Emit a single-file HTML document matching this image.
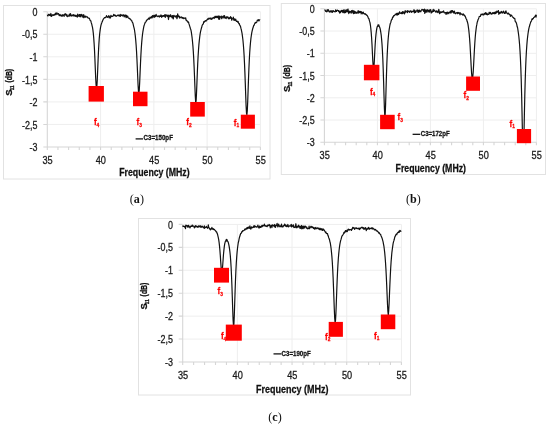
<!DOCTYPE html>
<html><head><meta charset="utf-8"><style>
html,body{margin:0;padding:0;background:#fff;}
svg{display:block;}
</style></head><body>
<svg width="550" height="427" viewBox="0 0 550 427" font-family="'Liberation Sans', Arial, sans-serif">
<rect width="550" height="427" fill="#fff"/>
<rect x="3.5" y="5.5" width="266.5" height="173.5" fill="#fff" stroke="#e2e2e2" stroke-width="1"/>
<path d="M47.3 11.7H260.4 M47.3 34.25H260.4 M47.3 56.8H260.4 M47.3 79.35H260.4 M47.3 101.9H260.4 M47.3 124.45H260.4 M100.57 11.7V147 M153.85 11.7V147 M207.12 11.7V147 M260.4 11.7V147" stroke="#eeeeee" stroke-width="1" fill="none"/>
<path d="M47.3 11.7V150 M43.3 147H260.4 M43.3 11.7H47.3 M43.3 34.25H47.3 M43.3 56.8H47.3 M43.3 79.35H47.3 M43.3 101.9H47.3 M43.3 124.45H47.3 M57.95 147v3 M68.61 147v3 M79.26 147v3 M89.92 147v3 M100.57 147v3 M111.23 147v3 M121.88 147v3 M132.54 147v3 M143.19 147v3 M153.85 147v3 M164.5 147v3 M175.16 147v3 M185.81 147v3 M196.47 147v3 M207.12 147v3 M217.78 147v3 M228.43 147v3 M239.09 147v3 M249.74 147v3 M260.4 147v3" stroke="#d6d6d6" stroke-width="1.1" fill="none"/>
<text transform="translate(37.5,15.85) scale(0.875,1)" font-size="10.2" text-anchor="end" fill="#1a1a1a" stroke="#1a1a1a" stroke-width="0.28">0</text>
<text transform="translate(37.5,38.4) scale(0.875,1)" font-size="10.2" text-anchor="end" fill="#1a1a1a" stroke="#1a1a1a" stroke-width="0.28">-0,5</text>
<text transform="translate(37.5,60.95) scale(0.875,1)" font-size="10.2" text-anchor="end" fill="#1a1a1a" stroke="#1a1a1a" stroke-width="0.28">-1</text>
<text transform="translate(37.5,83.5) scale(0.875,1)" font-size="10.2" text-anchor="end" fill="#1a1a1a" stroke="#1a1a1a" stroke-width="0.28">-1,5</text>
<text transform="translate(37.5,106.05) scale(0.875,1)" font-size="10.2" text-anchor="end" fill="#1a1a1a" stroke="#1a1a1a" stroke-width="0.28">-2</text>
<text transform="translate(37.5,128.6) scale(0.875,1)" font-size="10.2" text-anchor="end" fill="#1a1a1a" stroke="#1a1a1a" stroke-width="0.28">-2,5</text>
<text transform="translate(37.5,151.15) scale(0.875,1)" font-size="10.2" text-anchor="end" fill="#1a1a1a" stroke="#1a1a1a" stroke-width="0.28">-3</text>
<text transform="translate(47.6,163.9) scale(0.900,1)" font-size="10.2" text-anchor="middle" fill="#1a1a1a" stroke="#1a1a1a" stroke-width="0.28">35</text>
<text transform="translate(100.87,163.9) scale(0.900,1)" font-size="10.2" text-anchor="middle" fill="#1a1a1a" stroke="#1a1a1a" stroke-width="0.28">40</text>
<text transform="translate(154.15,163.9) scale(0.900,1)" font-size="10.2" text-anchor="middle" fill="#1a1a1a" stroke="#1a1a1a" stroke-width="0.28">45</text>
<text transform="translate(207.42,163.9) scale(0.900,1)" font-size="10.2" text-anchor="middle" fill="#1a1a1a" stroke="#1a1a1a" stroke-width="0.28">50</text>
<text transform="translate(260.7,163.9) scale(0.900,1)" font-size="10.2" text-anchor="middle" fill="#1a1a1a" stroke="#1a1a1a" stroke-width="0.28">55</text>
<text transform="translate(154.45,176.3) scale(0.810,1)" font-size="10.8" font-weight="bold" text-anchor="middle" fill="#111" stroke="#111" stroke-width="0.28">Frequency (MHz)</text>
<g transform="translate(12.35,95.75) rotate(-90)" fill="#111" stroke="#111" stroke-width="0.3" font-weight="bold"><text x="0" y="0" font-size="9.4">S</text><text transform="translate(5.4,2.0) scale(0.9,1)" font-size="5.2">11</text><text transform="translate(13.2,0) scale(0.779,1)" font-size="8.8">(dB)</text></g>
<clipPath id="cpa"><rect x="46.3" y="5.7" width="215.1" height="141.3"/></clipPath>
<polyline clip-path="url(#cpa)" points="47.3,14.67 47.7,15.86 48.1,15.79 48.5,14.34 48.9,14.57 49.3,14.42 49.7,15.42 50.1,14.92 50.5,15.67 50.9,13.47 51.3,16.47 51.7,15.08 52.1,15.77 52.5,14.97 52.9,14.67 53.3,15.24 53.7,15.43 54.1,14.51 54.5,14.45 54.9,15.02 55.3,13.69 55.7,13.03 56.1,14.58 56.5,13.77 56.9,12.84 57.3,13.83 57.7,14.19 58.1,13.7 58.5,13.54 58.9,14.87 59.3,15.65 59.7,14.82 60.1,14.5 60.5,15.5 60.9,15.89 61.3,15.02 61.7,15.82 62.1,16.29 62.5,15.11 62.9,14.53 63.3,15.64 63.7,15.54 64.1,16.35 64.5,14.1 64.9,14.69 65.3,14.52 65.7,13.68 66.1,15.44 66.5,15.82 66.9,14.63 67.3,16.64 67.7,16.11 68.1,15.93 68.5,15.72 68.9,16.25 69.3,14.1 69.7,15.94 70.1,15.93 70.5,13.71 70.9,15.7 71.3,15.15 71.7,16.13 72.1,14.99 72.5,15.38 72.9,15.73 73.3,14.58 73.7,15.97 74.1,15.31 74.5,15.88 74.9,14.93 75.3,16.44 75.7,16 76.1,15.28 76.5,16.04 76.9,16.63 77.3,17.13 77.7,14.03 78.1,16.31 78.5,15.95 78.9,15.45 79.3,14.64 79.7,16.72 80.1,14.48 80.5,16.15 80.9,16.83 81.3,14.33 81.7,15.51 82.1,14.7 82.5,16.09 82.9,17.22 83.3,17.69 83.7,14.62 84.1,15.7 84.5,16.82 84.9,17.59 85.3,16.79 85.7,16.03 86.1,16.95 86.5,16.88 86.9,16.93 87.3,16.79 87.7,17.75 88.1,17.96 88.5,18.03 88.9,18.32 89.3,18.22 89.7,19.13 90.1,20.44 90.5,20.57 90.9,21.01 91.3,22.9 91.7,23.93 92.1,25.82 92.5,27.41 92.9,29.89 93.3,33.08 93.7,37.62 94.1,43.2 94.5,50.03 94.9,58.72 95.3,68.65 95.7,78.2 96.1,85.21 96.5,87.42 96.9,85.72 97.3,79.18 97.7,69.64 98.1,59.76 98.5,50.86 98.9,43.69 99.3,37.83 99.7,33.48 100.1,30.38 100.5,27.55 100.9,25.72 101.3,24.11 101.7,23.05 102.1,21.89 102.5,21.13 102.9,20 103.3,19.14 103.7,18.6 104.1,18.28 104.5,17.53 104.9,17.54 105.3,17.54 105.7,17.54 106.1,16.94 106.5,15.62 106.9,16.79 107.3,16.87 107.7,17.42 108.1,16.94 108.5,15.86 108.9,15.71 109.3,17.9 109.7,16.8 110.1,17.67 110.5,17.89 110.9,15.29 111.3,16.3 111.7,16.33 112.1,16.38 112.5,16.31 112.9,15.97 113.3,15.91 113.7,14.39 114.1,15.54 114.5,14.98 114.9,15.74 115.3,15.18 115.7,16.14 116.1,16.31 116.5,15.83 116.9,15.82 117.3,15.6 117.7,15.09 118.1,15.35 118.5,15.03 118.9,15.87 119.3,15.52 119.7,16.05 120.1,14.28 120.5,16.35 120.9,14.85 121.3,14.9 121.7,15.41 122.1,15.12 122.5,15.91 122.9,15.19 123.3,14.81 123.7,15.06 124.1,16.95 124.5,15.94 124.9,15.04 125.3,16.09 125.7,15.04 126.1,17.67 126.5,15.39 126.9,16.99 127.3,17.21 127.7,16.06 128.1,17.44 128.5,18.12 128.9,18.04 129.3,18.21 129.7,18.92 130.1,18.86 130.5,19.37 130.9,19.63 131.3,20.52 131.7,20.52 132.1,21.93 132.5,22.35 132.9,23.23 133.3,24.86 133.7,26.59 134.1,28.15 134.5,29.99 134.9,32.78 135.3,35.83 135.7,39.85 136.1,44.81 136.5,50.77 136.9,58.39 137.3,67.06 137.7,76.59 138.1,85.51 138.5,91.77 138.9,93.22 139.3,89.65 139.7,81.87 140.1,72.37 140.5,63.17 140.9,54.93 141.3,47.99 141.7,42.59 142.1,38.16 142.5,34.47 142.9,31.68 143.3,29.38 143.7,27.18 144.1,25.41 144.5,24.39 144.9,23.28 145.3,22.29 145.7,21.99 146.1,21.65 146.5,20.16 146.9,20.18 147.3,19.88 147.7,19.4 148.1,19.27 148.5,18.13 148.9,18.56 149.3,19.18 149.7,18.19 150.1,17.02 150.5,17.72 150.9,18.06 151.3,17.27 151.7,16.44 152.1,17.96 152.5,15.66 152.9,16.97 153.3,16.47 153.7,15.41 154.1,17.36 154.5,16.57 154.9,15.21 155.3,16.7 155.7,15.75 156.1,14.4 156.5,15.45 156.9,16.29 157.3,16.61 157.7,16.16 158.1,16.04 158.5,16.42 158.9,15.78 159.3,17.07 159.7,16.1 160.1,16.24 160.5,16.47 160.9,14.96 161.3,15.3 161.7,17.41 162.1,16.29 162.5,15.72 162.9,16.31 163.3,15.56 163.7,16.28 164.1,15.42 164.5,16.3 164.9,14.62 165.3,17.3 165.7,15.64 166.1,14.69 166.5,15.95 166.9,15.84 167.3,16.34 167.7,15.19 168.1,16.61 168.5,19.53 168.9,15.17 169.3,16.64 169.7,16.09 170.1,16.58 170.5,14.72 170.9,15.3 171.3,16.76 171.7,16.29 172.1,17.83 172.5,15.64 172.9,16.45 173.3,19.01 173.7,15.56 174.1,15.42 174.5,16.24 174.9,16.23 175.3,17.07 175.7,16.41 176.1,15.59 176.5,16.5 176.9,18.74 177.3,17.5 177.7,13.86 178.1,16.27 178.5,15.65 178.9,17.01 179.3,16.36 179.7,18.2 180.1,17.37 180.5,17.43 180.9,17.01 181.3,16.97 181.7,17.39 182.1,18.23 182.5,17.84 182.9,17.39 183.3,18.69 183.7,18.16 184.1,18.21 184.5,18 184.9,18.42 185.3,18.68 185.7,17.8 186.1,20.29 186.5,20.42 186.9,20.46 187.3,21.54 187.7,21.8 188.1,22.38 188.5,22 188.9,23.66 189.3,24.83 189.7,26.19 190.1,27.45 190.5,28.76 190.9,29.93 191.3,31.84 191.7,34.78 192.1,37.7 192.5,41.45 192.9,45.84 193.3,51.4 193.7,58.1 194.1,66.43 194.5,75.99 194.9,86.44 195.3,96.16 195.7,102.34 196.1,101.12 196.5,93.49 196.9,83.41 197.3,73.16 197.7,63.93 198.1,56.17 198.5,49.98 198.9,44.67 199.3,40.6 199.7,37.13 200.1,34.2 200.5,31.85 200.9,30.1 201.3,28.53 201.7,27.28 202.1,25.58 202.5,24.77 202.9,24.09 203.3,24.03 203.7,21.73 204.1,22.39 204.5,21.42 204.9,21.48 205.3,20.6 205.7,20.73 206.1,21.15 206.5,20.16 206.9,19.97 207.3,19.72 207.7,18.75 208.1,19.47 208.5,18.77 208.9,18.17 209.3,18.61 209.7,18.34 210.1,19 210.5,18.27 210.9,17.78 211.3,19.32 211.7,18.87 212.1,19.04 212.5,18.42 212.9,17.76 213.3,17.43 213.7,17.5 214.1,18.52 214.5,17.75 214.9,16.3 215.3,17.54 215.7,16.27 216.1,17.66 216.5,16.4 216.9,16.31 217.3,17.56 217.7,17.36 218.1,15.88 218.5,18.1 218.9,19.42 219.3,16 219.7,19.1 220.1,16.73 220.5,16.91 220.9,17.21 221.3,16.03 221.7,18.62 222.1,17.86 222.5,16.69 222.9,17.11 223.3,15.94 223.7,17.02 224.1,18.21 224.5,15.71 224.9,16.91 225.3,17.47 225.7,18.32 226.1,18.6 226.5,16.92 226.9,16.67 227.3,17.78 227.7,17.06 228.1,17.16 228.5,18.38 228.9,18.95 229.3,17.91 229.7,17.65 230.1,18.35 230.5,16.56 230.9,18.12 231.3,17.46 231.7,20.19 232.1,19.08 232.5,18.75 232.9,18.63 233.3,17.06 233.7,19.58 234.1,20.38 234.5,18.91 234.9,20.06 235.3,20.29 235.7,19.09 236.1,20.9 236.5,21.42 236.9,21.09 237.3,21.29 237.7,22.14 238.1,21.48 238.5,22.79 238.9,23.79 239.3,23.59 239.7,25.21 240.1,25.67 240.5,26.32 240.9,28.17 241.3,29.53 241.7,31.64 242.1,33.62 242.5,36.66 242.9,39.76 243.3,43.98 243.7,49.01 244.1,55.36 244.5,63.26 244.9,72.64 245.3,83.53 245.7,95.12 246.1,105.89 246.5,113.15 246.9,114.77 247.3,110.8 247.7,101.84 248.1,90.55 248.5,79.09 248.9,68.79 249.3,60.03 249.7,52.79 250.1,47.12 250.5,42.48 250.9,38.67 251.3,35.76 251.7,33.08 252.1,31.07 252.5,29.51 252.9,27.98 253.3,27.03 253.7,25.37 254.1,25.44 254.5,23.87 254.9,23.47 255.3,22.34 255.7,22.79 256.1,22.74 256.5,22.29 256.9,21.85 257.3,20.12 257.7,20.31 258.1,20.26 258.5,19.72 258.9,20.95 259.3,20.12 259.7,19.82 260.1,20.06" fill="none" stroke="#111" stroke-width="1.2" stroke-linejoin="round"/>
<path d="M135.6 138.9H143.0" stroke="#000" stroke-width="1.2"/>
<text transform="translate(143.5,140.1) scale(0.817,1)" font-size="7.6" font-weight="bold" fill="#111" stroke="#111" stroke-width="0.28">C3=150pF</text>
<text transform="translate(93.9,125.3) scale(0.86,1)" font-size="9.4" font-weight="bold" fill="#f00" stroke="#f00" stroke-width="0.25">f<tspan font-size="5.6" dy="1.2">4</tspan></text>
<text transform="translate(136.6,125.3) scale(0.86,1)" font-size="9.4" font-weight="bold" fill="#f00" stroke="#f00" stroke-width="0.25">f<tspan font-size="5.6" dy="1.2">3</tspan></text>
<text transform="translate(186.3,125.3) scale(0.86,1)" font-size="9.4" font-weight="bold" fill="#f00" stroke="#f00" stroke-width="0.25">f<tspan font-size="5.6" dy="1.2">2</tspan></text>
<text transform="translate(233.8,126.1) scale(0.86,1)" font-size="9.4" font-weight="bold" fill="#f00" stroke="#f00" stroke-width="0.25">f<tspan font-size="5.6" dy="1.2">1</tspan></text>
<rect x="88.6" y="86" width="15.3" height="15.6" fill="#f00"/>
<rect x="133" y="91.7" width="14.5" height="14.5" fill="#f00"/>
<rect x="190.2" y="102" width="14.6" height="14.6" fill="#f00"/>
<rect x="240.8" y="114.7" width="14.1" height="14" fill="#f00"/>
<text transform="translate(129.8,202.8) scale(0.93,1)" font-family="'Liberation Serif', serif" font-size="13" fill="#111">(<tspan font-weight="bold">a</tspan>)</text>
<rect x="281.3" y="3.5" width="264.2" height="171.0" fill="#fff" stroke="#e2e2e2" stroke-width="1"/>
<path d="M324.4 8.8H536.4 M324.4 31.05H536.4 M324.4 53.3H536.4 M324.4 75.55H536.4 M324.4 97.8H536.4 M324.4 120.05H536.4 M377.4 8.8V142.3 M430.4 8.8V142.3 M483.4 8.8V142.3 M536.4 8.8V142.3" stroke="#eeeeee" stroke-width="1" fill="none"/>
<path d="M324.4 8.8V145.3 M320.4 142.3H536.4 M320.4 8.8H324.4 M320.4 31.05H324.4 M320.4 53.3H324.4 M320.4 75.55H324.4 M320.4 97.8H324.4 M320.4 120.05H324.4 M335 142.3v3 M345.6 142.3v3 M356.2 142.3v3 M366.8 142.3v3 M377.4 142.3v3 M388 142.3v3 M398.6 142.3v3 M409.2 142.3v3 M419.8 142.3v3 M430.4 142.3v3 M441 142.3v3 M451.6 142.3v3 M462.2 142.3v3 M472.8 142.3v3 M483.4 142.3v3 M494 142.3v3 M504.6 142.3v3 M515.2 142.3v3 M525.8 142.3v3 M536.4 142.3v3" stroke="#d6d6d6" stroke-width="1.1" fill="none"/>
<text transform="translate(314.6,12.95) scale(0.875,1)" font-size="10.2" text-anchor="end" fill="#1a1a1a" stroke="#1a1a1a" stroke-width="0.28">0</text>
<text transform="translate(314.6,35.2) scale(0.875,1)" font-size="10.2" text-anchor="end" fill="#1a1a1a" stroke="#1a1a1a" stroke-width="0.28">-0,5</text>
<text transform="translate(314.6,57.45) scale(0.875,1)" font-size="10.2" text-anchor="end" fill="#1a1a1a" stroke="#1a1a1a" stroke-width="0.28">-1</text>
<text transform="translate(314.6,79.7) scale(0.875,1)" font-size="10.2" text-anchor="end" fill="#1a1a1a" stroke="#1a1a1a" stroke-width="0.28">-1,5</text>
<text transform="translate(314.6,101.95) scale(0.875,1)" font-size="10.2" text-anchor="end" fill="#1a1a1a" stroke="#1a1a1a" stroke-width="0.28">-2</text>
<text transform="translate(314.6,124.2) scale(0.875,1)" font-size="10.2" text-anchor="end" fill="#1a1a1a" stroke="#1a1a1a" stroke-width="0.28">-2,5</text>
<text transform="translate(314.6,146.45) scale(0.875,1)" font-size="10.2" text-anchor="end" fill="#1a1a1a" stroke="#1a1a1a" stroke-width="0.28">-3</text>
<text transform="translate(324.7,159.2) scale(0.900,1)" font-size="10.2" text-anchor="middle" fill="#1a1a1a" stroke="#1a1a1a" stroke-width="0.28">35</text>
<text transform="translate(377.7,159.2) scale(0.900,1)" font-size="10.2" text-anchor="middle" fill="#1a1a1a" stroke="#1a1a1a" stroke-width="0.28">40</text>
<text transform="translate(430.7,159.2) scale(0.900,1)" font-size="10.2" text-anchor="middle" fill="#1a1a1a" stroke="#1a1a1a" stroke-width="0.28">45</text>
<text transform="translate(483.7,159.2) scale(0.900,1)" font-size="10.2" text-anchor="middle" fill="#1a1a1a" stroke="#1a1a1a" stroke-width="0.28">50</text>
<text transform="translate(536.7,159.2) scale(0.900,1)" font-size="10.2" text-anchor="middle" fill="#1a1a1a" stroke="#1a1a1a" stroke-width="0.28">55</text>
<text transform="translate(430.8,171.8) scale(0.810,1)" font-size="10.8" font-weight="bold" text-anchor="middle" fill="#111" stroke="#111" stroke-width="0.28">Frequency (MHz)</text>
<g transform="translate(290.15,91.95) rotate(-90)" fill="#111" stroke="#111" stroke-width="0.3" font-weight="bold"><text x="0" y="0" font-size="9.4">S</text><text transform="translate(5.4,2.0) scale(0.9,1)" font-size="5.2">11</text><text transform="translate(13.2,0) scale(0.779,1)" font-size="8.8">(dB)</text></g>
<clipPath id="cpb"><rect x="323.4" y="2.8" width="214" height="139.5"/></clipPath>
<polyline clip-path="url(#cpb)" points="324.4,9.92 324.8,9.98 325.2,10.02 325.6,11.31 326,11.18 326.4,11.41 326.8,11.89 327.2,9.67 327.6,10.42 328,11.08 328.4,9.73 328.8,10.49 329.2,11.93 329.6,12.03 330,12.02 330.4,11.09 330.8,10.87 331.2,12.08 331.6,10.76 332,11.43 332.4,12.35 332.8,10.82 333.2,10.61 333.6,11.18 334,11.76 334.4,11.67 334.8,11.39 335.2,11.78 335.6,9.82 336,10.52 336.4,11.47 336.8,10.49 337.2,10.13 337.6,10.28 338,10.56 338.4,11.26 338.8,10.51 339.2,11.67 339.6,13.03 340,11.36 340.4,12.71 340.8,11.77 341.2,10.44 341.6,11.26 342,10.57 342.4,12.23 342.8,10.41 343.2,12.76 343.6,12.06 344,9.6 344.4,12.26 344.8,12.98 345.2,10.78 345.6,12.46 346,9.84 346.4,11.77 346.8,9.98 347.2,12 347.6,9.88 348,9.09 348.4,11.94 348.8,13.71 349.2,11.03 349.6,12.37 350,11.7 350.4,11.31 350.8,12.19 351.2,13.16 351.6,10.5 352,12.18 352.4,11.99 352.8,10.38 353.2,13.19 353.6,13.51 354,10.88 354.4,13.35 354.8,11.84 355.2,11.67 355.6,13.19 356,12.08 356.4,12.2 356.8,13.29 357.2,13.12 357.6,12.81 358,10.86 358.4,10.76 358.8,13.14 359.2,11.44 359.6,12.41 360,11.45 360.4,12.27 360.8,11.44 361.2,13.9 361.6,11.84 362,12.66 362.4,12.72 362.8,13.9 363.2,12.04 363.6,13.22 364,13.26 364.4,13.95 364.8,14.09 365.2,13.7 365.6,14.4 366,14.32 366.4,15.13 366.8,15.2 367.2,15.39 367.6,16.22 368,17.01 368.4,18.43 368.8,18.41 369.2,19.78 369.6,21.46 370,22.58 370.4,25.04 370.8,28.22 371.2,32.35 371.6,37.79 372,44.35 372.4,52.43 372.8,60.68 373.2,66.8 373.6,67.82 374,66.35 374.4,59.58 374.8,51.5 375.2,44.34 375.6,38.27 376,34.11 376.4,31 376.8,28.37 377.2,26.68 377.6,26.32 378,24.85 378.4,26.1 378.8,24.9 379.2,26.41 379.6,27.03 380,28.19 380.4,29.86 380.8,32.35 381.2,35.04 381.6,39.07 382,44 382.4,50.45 382.8,58.54 383.2,69.01 383.6,81.48 384,95.4 384.4,108.42 384.8,116.3 385.2,114.47 385.6,104.52 386,90.79 386.4,76.9 386.8,64.81 387.2,55.05 387.6,47.18 388,41.04 388.4,36.23 388.8,32.37 389.2,29.44 389.6,27 390,24.75 390.4,23.18 390.8,22.4 391.2,20.71 391.6,19.53 392,19.49 392.4,18.01 392.8,16.89 393.2,17.13 393.6,15.88 394,15.63 394.4,15.69 394.8,15.1 395.2,14.41 395.6,14.25 396,13.96 396.4,14.9 396.8,13.43 397.2,13.33 397.6,15.03 398,13 398.4,14.38 398.8,14.13 399.2,12.9 399.6,11.79 400,13.16 400.4,13.28 400.8,13.46 401.2,12.65 401.6,13.56 402,13.68 402.4,11.51 402.8,13.63 403.2,12.5 403.6,11.8 404,11.99 404.4,13.93 404.8,13.09 405.2,10.62 405.6,12.19 406,11.95 406.4,11.87 406.8,11.53 407.2,10.66 407.6,12.65 408,11.02 408.4,11.49 408.8,11.24 409.2,11.09 409.6,12.36 410,12.01 410.4,11.03 410.8,10.76 411.2,11.15 411.6,12.41 412,11.62 412.4,11.69 412.8,11.16 413.2,11.2 413.6,11.6 414,9.71 414.4,12.81 414.8,10.61 415.2,10.79 415.6,12.5 416,11.46 416.4,11.27 416.8,10.68 417.2,9.77 417.6,11.34 418,12.24 418.4,10.31 418.8,12.36 419.2,10.05 419.6,10.4 420,11.56 420.4,11.08 420.8,11.72 421.2,10.37 421.6,10.09 422,9.3 422.4,9.92 422.8,10.03 423.2,9.7 423.6,11.33 424,10.41 424.4,9.15 424.8,13.37 425.2,10.23 425.6,9.83 426,12.19 426.4,12.12 426.8,9.92 427.2,9.62 427.6,10.06 428,12.08 428.4,10.71 428.8,10.24 429.2,10.98 429.6,12.14 430,9.68 430.4,10.64 430.8,9.71 431.2,12.97 431.6,12.66 432,11.93 432.4,11.01 432.8,11.75 433.2,9.36 433.6,11.49 434,10.11 434.4,10.16 434.8,10.74 435.2,11.1 435.6,11.95 436,12.1 436.4,11.76 436.8,10.73 437.2,12.2 437.6,11.54 438,12.72 438.4,10.92 438.8,9.34 439.2,11.39 439.6,13.74 440,12.3 440.4,11.77 440.8,12.77 441.2,12.47 441.6,12.44 442,11.52 442.4,12.08 442.8,12.2 443.2,11.41 443.6,10.96 444,12.15 444.4,12.94 444.8,12.64 445.2,12.5 445.6,12.51 446,14.47 446.4,12.3 446.8,13.03 447.2,13.9 447.6,12.12 448,12.33 448.4,13.07 448.8,13.67 449.2,12.4 449.6,12.46 450,12.22 450.4,11.04 450.8,13.2 451.2,11.95 451.6,10.62 452,12.09 452.4,10.66 452.8,11.34 453.2,12.3 453.6,11.48 454,13.3 454.4,11.05 454.8,12.63 455.2,12.93 455.6,13.76 456,13.31 456.4,12.76 456.8,12.68 457.2,12.62 457.6,13.69 458,12.26 458.4,13.31 458.8,12.89 459.2,13.25 459.6,12.94 460,14.91 460.4,12.87 460.8,13.69 461.2,13.85 461.6,14.24 462,14.3 462.4,14.47 462.8,15.04 463.2,13.75 463.6,14.97 464,14.62 464.4,15.81 464.8,15.57 465.2,16.23 465.6,17.25 466,18.52 466.4,19.07 466.8,20.01 467.2,21.55 467.6,22.57 468,24.32 468.4,27.04 468.8,30.07 469.2,34 469.6,38.76 470,44.28 470.4,51.41 470.8,59.06 471.2,66.76 471.6,73.22 472,77.5 472.4,78.12 472.8,76.53 473.2,72.12 473.6,65.19 474,57.5 474.4,49.91 474.8,43.28 475.2,37.74 475.6,33.12 476,29.81 476.4,26.63 476.8,24.68 477.2,22.33 477.6,21.3 478,19.76 478.4,19.03 478.8,17.95 479.2,16.6 479.6,16.43 480,16.49 480.4,16.38 480.8,14.85 481.2,14.1 481.6,14.57 482,14.76 482.4,14.26 482.8,13.95 483.2,15.01 483.6,14.98 484,14.71 484.4,13.28 484.8,14 485.2,13.7 485.6,12.59 486,14.48 486.4,13.75 486.8,13.2 487.2,14.83 487.6,14.22 488,14.24 488.4,14.42 488.8,13.95 489.2,12.23 489.6,12.89 490,13.99 490.4,12.43 490.8,13.06 491.2,13.31 491.6,14.15 492,13.98 492.4,13.58 492.8,12.6 493.2,13.51 493.6,13.13 494,12.49 494.4,13.78 494.8,12.99 495.2,11.84 495.6,13.61 496,12.22 496.4,12.95 496.8,11.01 497.2,12.34 497.6,11.48 498,11.39 498.4,10.56 498.8,14.31 499.2,12.22 499.6,12.6 500,13.41 500.4,12.32 500.8,12.92 501.2,11.28 501.6,12.7 502,12.2 502.4,13.04 502.8,12.8 503.2,11.5 503.6,11.16 504,11.94 504.4,13.49 504.8,13.29 505.2,13.34 505.6,11.43 506,10.99 506.4,12.76 506.8,13.09 507.2,13.02 507.6,13.88 508,13.65 508.4,13.1 508.8,13.51 509.2,14.41 509.6,14.56 510,14.69 510.4,16.41 510.8,15.07 511.2,15.58 511.6,15.24 512,15.95 512.4,16.8 512.8,17.22 513.2,17.3 513.6,18.05 514,18.44 514.4,18.26 514.8,18.47 515.2,21.33 515.6,21.66 516,22.39 516.4,23.09 516.8,24.6 517.2,26.77 517.6,27.78 518,30.43 518.4,33.21 518.8,36.24 519.2,40.13 519.6,44.75 520,50.79 520.4,57.94 520.8,67.25 521.2,79.09 521.6,93.83 522,111.51 522.4,131.12 522.8,148.92 523.2,157.64 523.6,150.47 524,133.14 524.4,113.55 524.8,95.55 525.2,80.54 525.6,68.51 526,59.04 526.4,51.59 526.8,45.62 527.2,40.66 527.6,36.95 528,33.76 528.4,31.16 528.8,28.95 529.2,27.08 529.6,25.71 530,24.27 530.4,23.15 530.8,21.86 531.2,21.37 531.6,20.42 532,18.91 532.4,19.43 532.8,18.56 533.2,18.68 533.6,17.71 534,17.37 534.4,17.2 534.8,16.76 535.2,16.22 535.6,15.09 536,17.23 536.4,14.74" fill="none" stroke="#111" stroke-width="1.2" stroke-linejoin="round"/>
<path d="M412.6 134.3H420.3" stroke="#000" stroke-width="1.2"/>
<text transform="translate(420.8,136.4) scale(0.800,1)" font-size="7.6" font-weight="bold" fill="#111" stroke="#111" stroke-width="0.28">C3=172pF</text>
<text transform="translate(369.9,95.1) scale(0.86,1)" font-size="9.4" font-weight="bold" fill="#f00" stroke="#f00" stroke-width="0.25">f<tspan font-size="5.6" dy="1.2">4</tspan></text>
<text transform="translate(397.5,120.3) scale(0.86,1)" font-size="9.4" font-weight="bold" fill="#f00" stroke="#f00" stroke-width="0.25">f<tspan font-size="5.6" dy="1.2">3</tspan></text>
<text transform="translate(463.6,98.3) scale(0.86,1)" font-size="9.4" font-weight="bold" fill="#f00" stroke="#f00" stroke-width="0.25">f<tspan font-size="5.6" dy="1.2">2</tspan></text>
<text transform="translate(509.5,126.9) scale(0.86,1)" font-size="9.4" font-weight="bold" fill="#f00" stroke="#f00" stroke-width="0.25">f<tspan font-size="5.6" dy="1.2">1</tspan></text>
<rect x="363.9" y="64.8" width="15.5" height="15.5" fill="#f00"/>
<rect x="380.1" y="114.8" width="14.6" height="14.4" fill="#f00"/>
<rect x="466.1" y="76.5" width="13.9" height="14.3" fill="#f00"/>
<rect x="516.9" y="129" width="14.2" height="14.2" fill="#f00"/>
<text transform="translate(405.9,202.8) scale(0.93,1)" font-family="'Liberation Serif', serif" font-size="13" fill="#111">(<tspan font-weight="bold">b</tspan>)</text>
<rect x="138.5" y="218.5" width="272.0" height="176.5" fill="#fff" stroke="#e2e2e2" stroke-width="1"/>
<path d="M182.7 224.4H401.4 M182.7 247.33H401.4 M182.7 270.27H401.4 M182.7 293.2H401.4 M182.7 316.13H401.4 M182.7 339.07H401.4 M237.38 224.4V362 M292.05 224.4V362 M346.72 224.4V362 M401.4 224.4V362" stroke="#eeeeee" stroke-width="1" fill="none"/>
<path d="M182.7 224.4V365 M178.7 362H401.4 M178.7 224.4H182.7 M178.7 247.33H182.7 M178.7 270.27H182.7 M178.7 293.2H182.7 M178.7 316.13H182.7 M178.7 339.07H182.7 M193.63 362v3 M204.57 362v3 M215.5 362v3 M226.44 362v3 M237.38 362v3 M248.31 362v3 M259.25 362v3 M270.18 362v3 M281.12 362v3 M292.05 362v3 M302.98 362v3 M313.92 362v3 M324.85 362v3 M335.79 362v3 M346.72 362v3 M357.66 362v3 M368.59 362v3 M379.53 362v3 M390.46 362v3 M401.4 362v3" stroke="#d6d6d6" stroke-width="1.1" fill="none"/>
<text transform="translate(172.9,228.55) scale(0.875,1)" font-size="10.2" text-anchor="end" fill="#1a1a1a" stroke="#1a1a1a" stroke-width="0.28">0</text>
<text transform="translate(172.9,251.48) scale(0.875,1)" font-size="10.2" text-anchor="end" fill="#1a1a1a" stroke="#1a1a1a" stroke-width="0.28">-0,5</text>
<text transform="translate(172.9,274.42) scale(0.875,1)" font-size="10.2" text-anchor="end" fill="#1a1a1a" stroke="#1a1a1a" stroke-width="0.28">-1</text>
<text transform="translate(172.9,297.35) scale(0.875,1)" font-size="10.2" text-anchor="end" fill="#1a1a1a" stroke="#1a1a1a" stroke-width="0.28">-1,5</text>
<text transform="translate(172.9,320.28) scale(0.875,1)" font-size="10.2" text-anchor="end" fill="#1a1a1a" stroke="#1a1a1a" stroke-width="0.28">-2</text>
<text transform="translate(172.9,343.22) scale(0.875,1)" font-size="10.2" text-anchor="end" fill="#1a1a1a" stroke="#1a1a1a" stroke-width="0.28">-2,5</text>
<text transform="translate(172.9,366.15) scale(0.875,1)" font-size="10.2" text-anchor="end" fill="#1a1a1a" stroke="#1a1a1a" stroke-width="0.28">-3</text>
<text transform="translate(183,378.9) scale(0.900,1)" font-size="10.2" text-anchor="middle" fill="#1a1a1a" stroke="#1a1a1a" stroke-width="0.28">35</text>
<text transform="translate(237.68,378.9) scale(0.900,1)" font-size="10.2" text-anchor="middle" fill="#1a1a1a" stroke="#1a1a1a" stroke-width="0.28">40</text>
<text transform="translate(292.35,378.9) scale(0.900,1)" font-size="10.2" text-anchor="middle" fill="#1a1a1a" stroke="#1a1a1a" stroke-width="0.28">45</text>
<text transform="translate(347.02,378.9) scale(0.900,1)" font-size="10.2" text-anchor="middle" fill="#1a1a1a" stroke="#1a1a1a" stroke-width="0.28">50</text>
<text transform="translate(401.7,378.9) scale(0.900,1)" font-size="10.2" text-anchor="middle" fill="#1a1a1a" stroke="#1a1a1a" stroke-width="0.28">55</text>
<text transform="translate(292.2,392.6) scale(0.833,1)" font-size="10.8" font-weight="bold" text-anchor="middle" fill="#111" stroke="#111" stroke-width="0.28">Frequency (MHz)</text>
<g transform="translate(147.35,309.6) rotate(-90)" fill="#111" stroke="#111" stroke-width="0.3" font-weight="bold"><text x="0" y="0" font-size="9.4">S</text><text transform="translate(5.4,2.0) scale(0.9,1)" font-size="5.2">11</text><text transform="translate(13.2,0) scale(0.779,1)" font-size="8.8">(dB)</text></g>
<clipPath id="cpc"><rect x="181.7" y="218.4" width="220.7" height="143.6"/></clipPath>
<polyline clip-path="url(#cpc)" points="182.7,225.49 183.1,226.42 183.5,226.18 183.9,226.37 184.3,226.58 184.7,227.05 185.1,226.18 185.5,228.59 185.9,225.02 186.3,226.17 186.7,225.65 187.1,225.51 187.5,226.29 187.9,227.38 188.3,225.41 188.7,225.43 189.1,226.76 189.5,226.62 189.9,227.93 190.3,227.1 190.7,226.4 191.1,225.91 191.5,226.43 191.9,226.09 192.3,225.04 192.7,226.31 193.1,226.16 193.5,226.13 193.9,225.98 194.3,227.92 194.7,227.05 195.1,227.29 195.5,225.92 195.9,225.57 196.3,226.27 196.7,226.77 197.1,226.27 197.5,226.44 197.9,227.5 198.3,226.93 198.7,225.81 199.1,226.34 199.5,226.17 199.9,226.95 200.3,225.74 200.7,226.67 201.1,227.48 201.5,226.89 201.9,226.06 202.3,226.35 202.7,227.05 203.1,227.4 203.5,227.74 203.9,226.89 204.3,225.87 204.7,228.35 205.1,227.38 205.5,227.51 205.9,227.46 206.3,226.33 206.7,227 207.1,227.55 207.5,228.27 207.9,227.49 208.3,224.88 208.7,227.37 209.1,227.94 209.5,228.78 209.9,228.38 210.3,229.88 210.7,229.12 211.1,229.16 211.5,228.96 211.9,227.37 212.3,229.15 212.7,229.13 213.1,228.55 213.5,229.51 213.9,229.63 214.3,229.38 214.7,229.91 215.1,230.21 215.5,230.9 215.9,231.1 216.3,232.12 216.7,231.93 217.1,233.41 217.5,234.11 217.9,235.8 218.3,237.68 218.7,239.7 219.1,242.37 219.5,245.83 219.9,250.29 220.3,255.33 220.7,261.41 221.1,266.9 221.5,270.93 221.9,272.07 222.3,269.73 222.7,265.22 223.1,259.71 223.5,254.32 223.9,250.07 224.3,246.64 224.7,243.83 225.1,242.31 225.5,240.86 225.9,240.88 226.3,239.34 226.7,241.24 227.1,239.72 227.5,241.31 227.9,241.49 228.3,242.57 228.7,244.13 229.1,246.06 229.5,248.6 229.9,251.76 230.3,255.55 230.7,260.6 231.1,266.99 231.5,275.25 231.9,285.27 232.3,296.92 232.7,309.3 233.1,320.15 233.5,326.02 233.9,324.17 234.3,315.44 234.7,303.28 235.1,290.97 235.5,279.76 235.9,270.53 236.3,262.97 236.7,256.97 237.1,252.1 237.5,248.21 237.9,245.21 238.3,242.52 238.7,241.1 239.1,238.79 239.5,237.26 239.9,236.04 240.3,234.81 240.7,233.38 241.1,233.38 241.5,232.93 241.9,231.54 242.3,231.7 242.7,230.62 243.1,230.81 243.5,230.67 243.9,230.42 244.3,230.11 244.7,229.13 245.1,229.91 245.5,228.82 245.9,229.16 246.3,229.23 246.7,228.35 247.1,227.47 247.5,228.73 247.9,227.29 248.3,227.33 248.7,227.05 249.1,228.47 249.5,227.58 249.9,225.82 250.3,228.1 250.7,229.08 251.1,228.78 251.5,226.78 251.9,227.22 252.3,227.5 252.7,227.75 253.1,226.96 253.5,225.95 253.9,227.43 254.3,227.26 254.7,225.55 255.1,226.3 255.5,226.79 255.9,226.5 256.3,226.93 256.7,227.14 257.1,226.88 257.5,226.26 257.9,225.12 258.3,226.86 258.7,227.54 259.1,228.04 259.5,226.2 259.9,226.17 260.3,227.49 260.7,227.47 261.1,226.44 261.5,226.76 261.9,225.4 262.3,226.61 262.7,225.3 263.1,225.9 263.5,225.91 263.9,225.57 264.3,224.04 264.7,225.21 265.1,226.27 265.5,225.89 265.9,225.57 266.3,226.31 266.7,226.54 267.1,226.68 267.5,225.13 267.9,225.89 268.3,225.54 268.7,225.03 269.1,224.44 269.5,225.73 269.9,225 270.3,227.81 270.7,225.7 271.1,225.57 271.5,225.41 271.9,227.56 272.3,224.9 272.7,225.64 273.1,225.07 273.5,225.68 273.9,225.77 274.3,226.84 274.7,224.47 275.1,225.79 275.5,227.34 275.9,225.34 276.3,225.66 276.7,225 277.1,223.37 277.5,225.74 277.9,226.95 278.3,225.41 278.7,224.12 279.1,226.11 279.5,225.94 279.9,226.81 280.3,226.73 280.7,225.63 281.1,226.27 281.5,224.21 281.9,226.95 282.3,226.09 282.7,226.94 283.1,226.92 283.5,225.67 283.9,225.8 284.3,225.13 284.7,224.03 285.1,225.84 285.5,226.12 285.9,224.98 286.3,226.65 286.7,226.11 287.1,226.46 287.5,225.37 287.9,224.48 288.3,226.82 288.7,226.69 289.1,226.05 289.5,225.79 289.9,225.95 290.3,226.1 290.7,225.78 291.1,224.44 291.5,227 291.9,224.96 292.3,226.04 292.7,226.09 293.1,226.62 293.5,224.95 293.9,227.53 294.3,227.06 294.7,227.18 295.1,227.66 295.5,225.82 295.9,223.73 296.3,226.89 296.7,227.8 297.1,227.69 297.5,226.19 297.9,226.62 298.3,226.99 298.7,225.13 299.1,226.18 299.5,226.24 299.9,228.26 300.3,226.28 300.7,228.31 301.1,226.94 301.5,225.46 301.9,228.99 302.3,226.13 302.7,227.6 303.1,228.61 303.5,226.6 303.9,226 304.3,228.08 304.7,227.22 305.1,226.08 305.5,226.24 305.9,226.89 306.3,228.14 306.7,227.04 307.1,227.92 307.5,228.84 307.9,228.53 308.3,228.71 308.7,228.55 309.1,226.06 309.5,228.61 309.9,227.85 310.3,227.49 310.7,226.68 311.1,226.27 311.5,226.74 311.9,227.74 312.3,226.77 312.7,227.13 313.1,227.35 313.5,228.51 313.9,227.73 314.3,227.91 314.7,229.23 315.1,227.86 315.5,228.7 315.9,227.34 316.3,228.58 316.7,228.46 317.1,228.57 317.5,228.11 317.9,227.72 318.3,228.4 318.7,228.35 319.1,229.65 319.5,229.64 319.9,228.06 320.3,229.6 320.7,228.86 321.1,229.7 321.5,229.12 321.9,228.55 322.3,230.51 322.7,230.27 323.1,229.31 323.5,229.1 323.9,230.24 324.3,230.1 324.7,230.9 325.1,231.78 325.5,232.58 325.9,231.98 326.3,233.28 326.7,233.64 327.1,233.49 327.5,233.67 327.9,235.39 328.3,236.14 328.7,237.65 329.1,238.51 329.5,239.71 329.9,241.54 330.3,243 330.7,245.63 331.1,248.51 331.5,252.34 331.9,256.67 332.3,261.93 332.7,269.05 333.1,277.25 333.5,287.18 333.9,298.13 334.3,309.15 334.7,318.1 335.1,322.46 335.5,320.62 335.9,313.65 336.3,303.24 336.7,292.03 337.1,281.61 337.5,272.53 337.9,265.21 338.3,259.03 338.7,254.14 339.1,250.19 339.5,246.8 339.9,244.11 340.3,242.18 340.7,240.42 341.1,239.18 341.5,237.7 341.9,236.16 342.3,235.77 342.7,235.11 343.1,234.53 343.5,233.66 343.9,232.41 344.3,233.13 344.7,231.74 345.1,232.1 345.5,230.52 345.9,231.64 346.3,230.41 346.7,231.39 347.1,231.67 347.5,231.1 347.9,229.28 348.3,229.27 348.7,229.17 349.1,230.19 349.5,229.84 349.9,229.59 350.3,229.61 350.7,229.74 351.1,229.71 351.5,230.46 351.9,228.96 352.3,229.09 352.7,227.31 353.1,227.67 353.5,228.13 353.9,227.64 354.3,228.78 354.7,229.43 355.1,228.11 355.5,228.01 355.9,227.94 356.3,228.46 356.7,227.82 357.1,228.64 357.5,228.49 357.9,228.5 358.3,228.85 358.7,228.16 359.1,228.23 359.5,229.67 359.9,228.01 360.3,228.76 360.7,228.06 361.1,227.57 361.5,227.57 361.9,227.24 362.3,228.03 362.7,227.46 363.1,227.65 363.5,229.18 363.9,227.94 364.3,229.13 364.7,228.35 365.1,228.91 365.5,227.59 365.9,228.31 366.3,230.57 366.7,228.97 367.1,229.16 367.5,228.51 367.9,229.09 368.3,227.36 368.7,227.69 369.1,228.84 369.5,229.23 369.9,228.23 370.3,228.5 370.7,228.43 371.1,228.66 371.5,227.94 371.9,227.86 372.3,229.03 372.7,227.86 373.1,228.56 373.5,228.93 373.9,228.76 374.3,229.87 374.7,229.51 375.1,229.94 375.5,229.46 375.9,229.85 376.3,230.9 376.7,231.02 377.1,230.74 377.5,231.52 377.9,231.71 378.3,232.03 378.7,233.16 379.1,232.53 379.5,233.4 379.9,233.91 380.3,234.22 380.7,234.55 381.1,236.02 381.5,236.76 381.9,237.72 382.3,238.92 382.7,240.34 383.1,241.82 383.5,244.05 383.9,246.11 384.3,249.26 384.7,252.6 385.1,257.01 385.5,262.32 385.9,268.61 386.3,276.23 386.7,285.15 387.1,294.8 387.5,304.23 387.9,311.52 388.3,315.25 388.7,311.06 389.1,303.42 389.5,293.81 389.9,284.26 390.3,275.42 390.7,268.03 391.1,261.69 391.5,256.85 391.9,252.3 392.3,249.23 392.7,246.37 393.1,243.6 393.5,241.92 393.9,240.68 394.3,239.26 394.7,237.28 395.1,236.6 395.5,235.47 395.9,234.73 396.3,234.2 396.7,234.74 397.1,233.45 397.5,232.82 397.9,232.35 398.3,232.55 398.7,232.26 399.1,231 399.5,232.23 399.9,230.35 400.3,230.66 400.7,230.97 401.1,231.68" fill="none" stroke="#111" stroke-width="1.2" stroke-linejoin="round"/>
<path d="M273.5 353.9H281.4" stroke="#000" stroke-width="1.2"/>
<text transform="translate(281.6,355.6) scale(0.808,1)" font-size="7.6" font-weight="bold" fill="#111" stroke="#111" stroke-width="0.28">C3=190pF</text>
<text transform="translate(217.6,294.4) scale(0.86,1)" font-size="9.4" font-weight="bold" fill="#f00" stroke="#f00" stroke-width="0.25">f<tspan font-size="5.6" dy="1.2">3</tspan></text>
<text transform="translate(220.9,339.3) scale(0.86,1)" font-size="9.4" font-weight="bold" fill="#f00" stroke="#f00" stroke-width="0.25">f<tspan font-size="5.6" dy="1.2">4</tspan></text>
<text transform="translate(325.0,339.5) scale(0.86,1)" font-size="9.4" font-weight="bold" fill="#f00" stroke="#f00" stroke-width="0.25">f<tspan font-size="5.6" dy="1.2">2</tspan></text>
<text transform="translate(374.0,339.2) scale(0.86,1)" font-size="9.4" font-weight="bold" fill="#f00" stroke="#f00" stroke-width="0.25">f<tspan font-size="5.6" dy="1.2">1</tspan></text>
<rect x="214" y="267.8" width="15" height="14.8" fill="#f00"/>
<rect x="225.8" y="324.6" width="16" height="16.1" fill="#f00"/>
<rect x="328.7" y="321.9" width="14.2" height="14.9" fill="#f00"/>
<rect x="380.8" y="314.5" width="14.5" height="14.7" fill="#f00"/>
<text transform="translate(268.3,420.5) scale(0.93,1)" font-family="'Liberation Serif', serif" font-size="13" fill="#111">(<tspan font-weight="bold">c</tspan>)</text>
</svg>
</body></html>
